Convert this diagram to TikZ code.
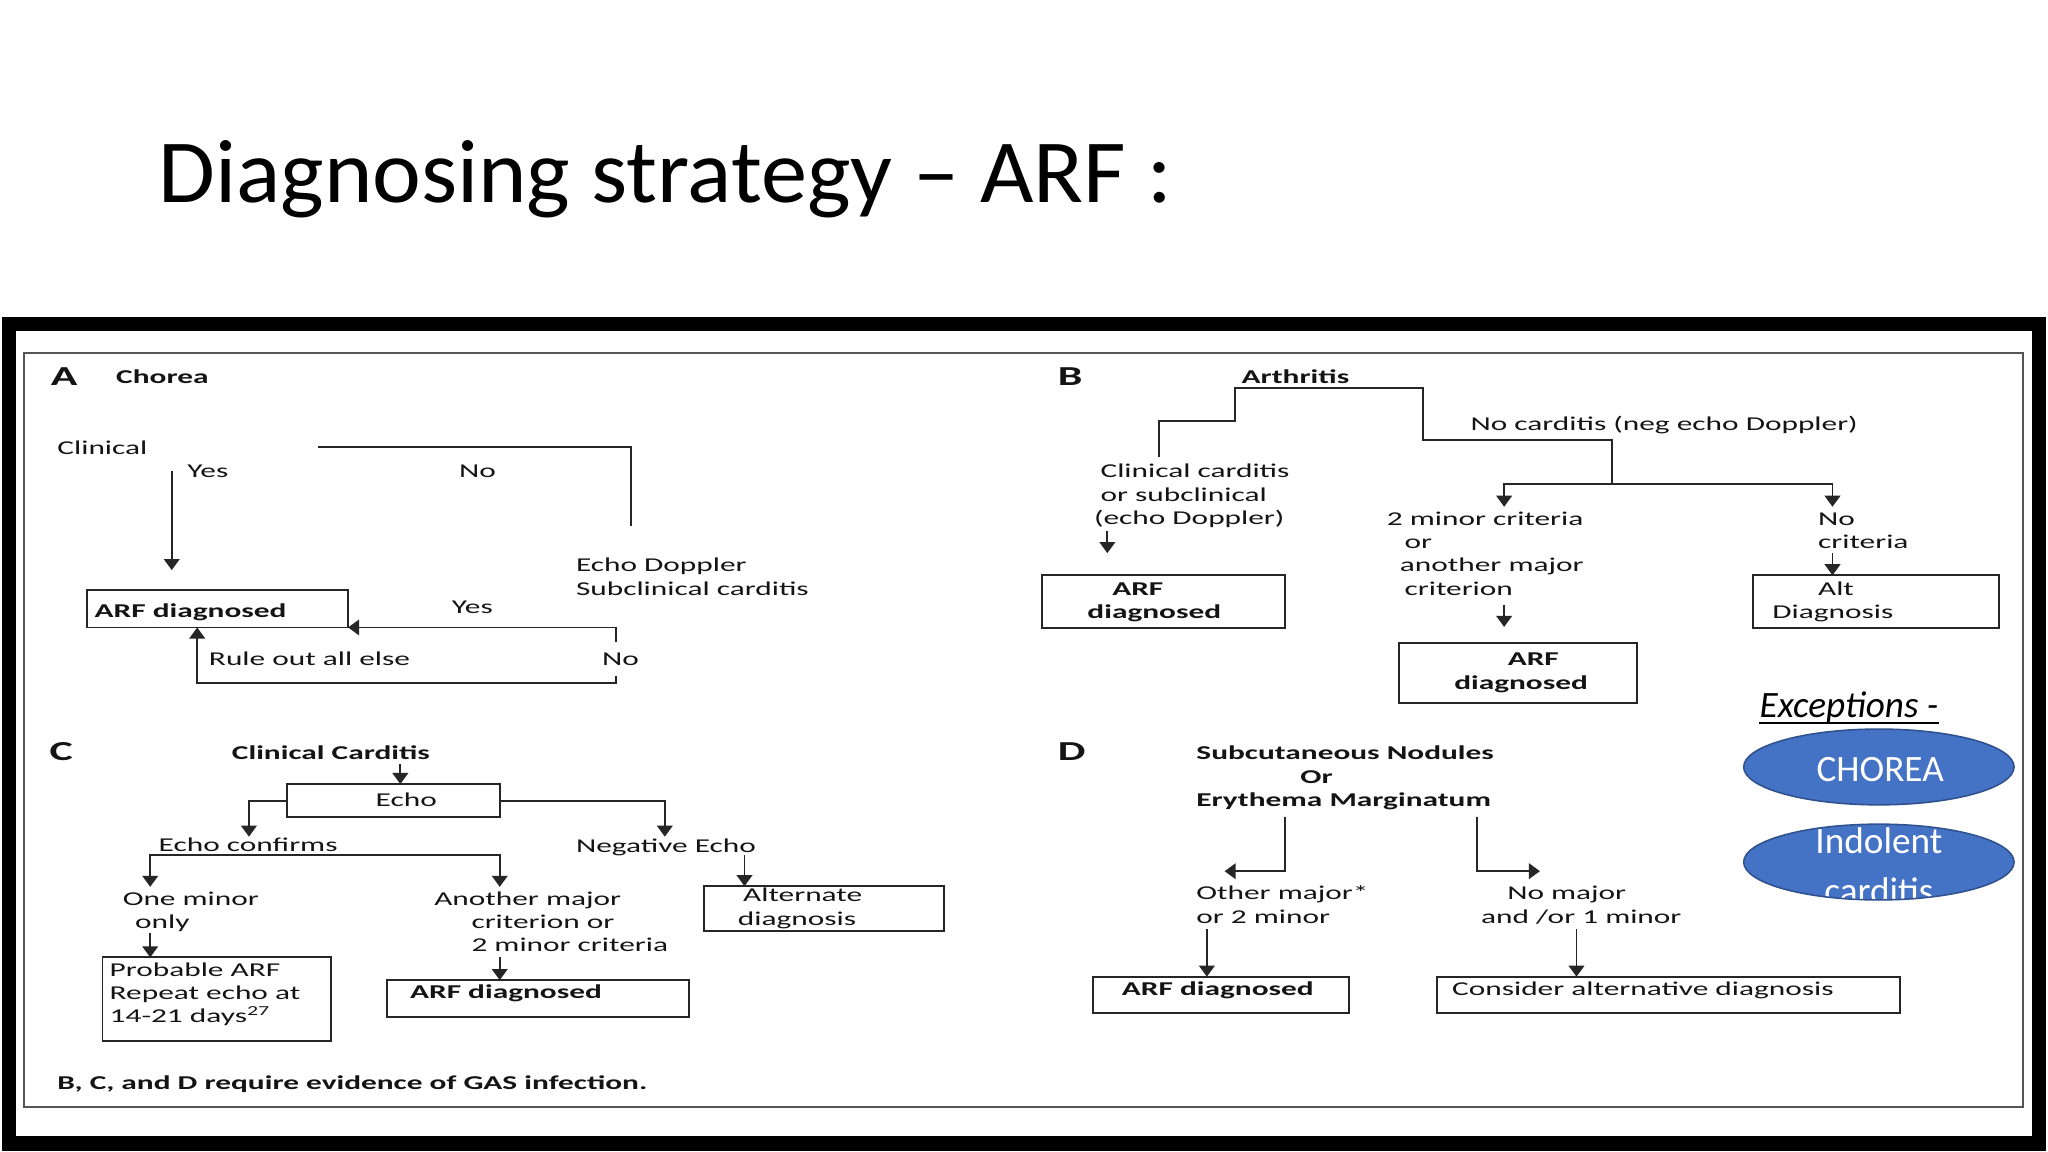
\documentclass[tikz,border=0pt]{standalone}
\usepackage{fontspec}
\setmainfont{Carlito}
\newfontfamily\figfont[FakeStretch=1.6]{Carlito}
\newfontfamily\titlefont[FakeStretch=1.025]{Carlito}
\usetikzlibrary{arrows.meta}
\definecolor{ink}{HTML}{141414}
\definecolor{lin}{HTML}{262626}
\definecolor{frm}{HTML}{555555}
\definecolor{ellfill}{HTML}{4472C4}
\definecolor{elldraw}{HTML}{2F528F}
\begin{document}
\begin{tikzpicture}[x=1pt,y=-1pt,
  txt/.style={anchor=base west, inner sep=0pt, outer sep=0pt, text=ink, font=\figfont\fontsize{15}{18}\selectfont},
  btxt/.style={txt, font=\figfont\bfseries\fontsize{15}{18}\selectfont},
  plabel/.style={txt, font=\figfont\bfseries\fontsize{21}{24}\selectfont},
  box/.style={draw=lin, line width=1.4pt, anchor=north west, inner sep=0pt, outer sep=0pt},
  conn/.style={draw=lin, line width=1.4pt},
  arr/.style={conn, -{Triangle[length=8.5pt,width=12pt]}},
  eltxt/.style={anchor=base, inner sep=0pt, text=white, font=\fontsize{28.5}{34}\selectfont}
]
\fill[white] (0,0) rectangle (1568,882);
\useasboundingbox (0,0) rectangle (1568,882);

% title
\node[anchor=base west, inner sep=0pt, font=\titlefont\fontsize{69}{80}\selectfont] (title) at (121,155) {Diagnosing strategy – ARF :};

% frames
\draw[line width=11pt, black] (6.8,248.3) rectangle (1561.3,875.5);
\draw[frm, line width=1.6pt] (18.4,270.5) rectangle (1549,847.4);

% ---------------- Panel A
\node[plabel] (aLab) at (39,294.8) {A};
\node[btxt] (aChorea) at (89,294) {Chorea};
\node[txt] (aClin) at (44,347.6) {Clinical};
\node[txt] (aYes1) at (143.5,365.7) {Yes};
\node[txt] (aNo1) at (351.6,365.7) {No};
\node[txt] (aEcho1) at (441,437.7) {Echo Doppler};
\node[txt] (aEcho2) at (441,455.6) {Subclinical carditis};
\node[box, minimum width=200pt, minimum height=28.6pt] (aArf) at (66.5,451.8) {};
\node[btxt] (aArfT) at (72.5,472.7) {ARF diagnosed};
\node[txt] (aYes2) at (346,469.6) {Yes};
\node[txt] (aRule) at (160,509.7) {Rule out all else};
\node[txt] (aNo2) at (461,509.7) {No};

\coordinate (aNoStart) at (243.6,342);
\coordinate (aNoEnd) at (483,403);
\draw[conn] (aNoStart) -| (aNoEnd);
\coordinate (aYesTop) at (131.5,360.4);
\coordinate (aYesTip) at (131.5,436.5);
\draw[arr] (aYesTop) -- (aYesTip);
\coordinate (aEchoYes) at (471.6,491.7);
\draw[arr] (aEchoYes) |- (aArf.south east);
\coordinate (aEchoNo) at (471.6,517.3);
\coordinate (aLoop) at (471.6,523.2);
\coordinate (aRuleIn) at (151,480.4);
\draw[arr] (aEchoNo) -- (aLoop) -| (aRuleIn);

% ---------------- Panel B
\node[plabel] (bLab) at (810,294.8) {B};
\node[btxt] (bArth) at (950.7,293.5) {Arthritis};
\node[txt] (bNoCard) at (1125.9,329.8) {No carditis (neg echo Doppler)};
\node[txt] (bCl1) at (842.6,365.7) {Clinical carditis};
\node[txt] (bCl2) at (842.6,383.6) {or subclinical};
\node[txt] (bCl3) at (837.6,401.5) {(echo Doppler)};
\node[txt] (bMi1) at (1061.8,402) {2 minor criteria};
\node[txt] (bMi2) at (1075.4,419.8) {or};
\node[txt] (bMi3) at (1071.8,437.7) {another major};
\node[txt] (bMi4) at (1075.4,455.6) {criterion};
\node[txt] (bNo1) at (1392,402) {No};
\node[txt] (bNo2) at (1392,419.8) {criteria};

\node[box, minimum width=186pt, minimum height=40.5pt] (bArf1) at (798,440.5) {};
\node[btxt] (bArf1a) at (851.6,455.6) {ARF};
\node[btxt] (bArf1b) at (832.6,473.5) {diagnosed};
\node[box, minimum width=182pt, minimum height=46pt] (bArf2) at (1071,492) {};
\node[btxt] (bArf2a) at (1154.4,509.7) {ARF};
\node[btxt] (bArf2b) at (1113.4,527.6) {diagnosed};
\node[box, minimum width=188.5pt, minimum height=40.5pt] (bAlt) at (1342,440.5) {};
\node[txt] (bAlta) at (1392,455.6) {Alt};
\node[txt] (bAltb) at (1357,473.5) {Diagnosis};

\coordinate (bStart) at (887.5,350);
\coordinate (bS1) at (945.7,322.4);
\coordinate (bS2) at (1089.6,296.8);
\coordinate (bS3) at (1234.3,336.9);
\coordinate (bSplit) at (1234.3,370.5);
\draw[conn] (bStart) |- (bS1) |- (bS2) |- (bS3) -- (bSplit);
\coordinate (bMinTip) at (1151.6,388);
\coordinate (bNoTip) at (1403,388);
\draw[arr] (bSplit) -| (bMinTip);
\draw[arr] (bSplit) -| (bNoTip);
\coordinate (bClTop) at (847.8,406.5);
\coordinate (bClTip) at (847.8,423.5);
\draw[arr] (bClTop) -- (bClTip);
\coordinate (bMiTop) at (1151.6,463);
\coordinate (bMiTip) at (1151.6,480);
\draw[arr] (bMiTop) -- (bMiTip);
\coordinate (bNoTop) at (1403,423.5);
\draw[arr] (bNoTop) -- (bNoTop |- bAlt.north);

% ---------------- Exceptions
\node[anchor=base west, inner sep=0pt, font=\fontsize{28.5}{34}\selectfont\itshape] (exc) at (1347,549) {Exceptions -};
\draw[line width=1.5pt] ([yshift=-4.5pt]exc.base west) -- ([yshift=-4.5pt]exc.base east);
\coordinate (choC) at (1438.5,587.2);
\coordinate (indC) at (1438.5,660);
\fill[ellfill] (choC) ellipse [x radius=103.5pt, y radius=29pt];
\fill[ellfill] (indC) ellipse [x radius=103.5pt, y radius=29pt];
\node[eltxt] (choT) at (1439.5,598.5) {CHOREA};
\node[eltxt] (indT1) at (1438.5,653.4) {Indolent};
\node[eltxt] (indT2) at (1438.5,692) {carditis};
\draw[elldraw, line width=1.2pt] (choC) ellipse [x radius=103.5pt, y radius=29pt];
\draw[elldraw, line width=1.2pt] (indC) ellipse [x radius=103.5pt, y radius=29pt];

% ---------------- Panel C
\node[plabel] (cLab) at (38,582) {C};
\node[btxt] (cClin) at (177.6,581.4) {Clinical Carditis};
\node[box, minimum width=162.5pt, minimum height=25.5pt] (cEcho) at (220,600.3) {};
\node[txt] (cEchoT) at (287.6,617.7) {Echo};
\node[txt] (cConf) at (121.5,652) {Echo confirms};
\node[txt] (cNeg) at (441,653) {Negative Echo};
\node[txt] (cOne1) at (94,693) {One minor};
\node[txt] (cOne2) at (103.5,710.8) {only};
\node[txt] (cAn1) at (332.5,693) {Another major};
\node[txt] (cAn2) at (361,710.8) {criterion or};
\node[txt] (cAn3) at (361,728.7) {2 minor criteria};
\node[box, minimum width=175pt, minimum height=63.8pt] (cProb) at (78.5,733) {};
\node[txt] (cProb1) at (84,747.3) {Probable ARF};
\node[txt] (cProb2) at (84,765) {Repeat echo at};
\node[txt] (cProb3) at (84,783) {14-21 days\textsuperscript{27}};
\node[box, minimum width=231pt, minimum height=28.5pt] (cArf) at (296.6,750.4) {};
\node[btxt] (cArfT) at (314,764.7) {ARF diagnosed};
\node[box, minimum width=183.7pt, minimum height=34pt] (cAlt) at (539,678.5) {};
\node[txt] (cAlt1) at (569,690.4) {Alternate};
\node[txt] (cAlt2) at (565,708.3) {diagnosis};
\node[btxt] (cGas) at (44,834) {B, C, and D require evidence of GAS infection.};

\coordinate (cClTop) at (306.5,585);
\draw[arr] (cClTop) -- (cClTop |- cEcho.north);
\coordinate (cLTip) at (190.6,640.6);
\coordinate (cRTip) at (509,640.6);
\draw[arr] (cEcho.west) -| (cLTip);
\draw[arr] (cEcho.east) -| (cRTip);
\coordinate (cBar) at (250,654.3);
\coordinate (cOneTip) at (115,679);
\coordinate (cAnTip) at (382.6,679);
\draw[arr] (cBar) -| (cOneTip);
\draw[arr] (cBar) -| (cAnTip);
\coordinate (cOneTop) at (115,714.6);
\draw[arr] (cOneTop) -- (cOneTop |- cProb.north);
\coordinate (cAnTop) at (382.6,733);
\draw[arr] (cAnTop) -- (cAnTop |- cArf.north);
\coordinate (cNegTop) at (570,654.7);
\draw[arr] (cNegTop) -- (cNegTop |- cAlt.north);

% ---------------- Panel D
\node[plabel] (dLab) at (810,582) {D};
\node[btxt] (dSub1) at (916,581.4) {Subcutaneous Nodules};
\node[btxt] (dSub2) at (995.6,599.8) {Or};
\node[btxt] (dSub3) at (916,617.2) {Erythema Marginatum};
\node[txt] (dOt1) at (916,689) {Other major*};
\node[txt] (dOt2) at (916,707) {or 2 minor};
\node[txt] (dNm1) at (1154,689) {No major};
\node[txt] (dNm2) at (1134,707) {and /or 1 minor};
\node[box, minimum width=196.4pt, minimum height=28pt] (dArf) at (836.6,747.8) {};
\node[btxt] (dArfT) at (859,761.9) {ARF diagnosed};
\node[box, minimum width=354.2pt, minimum height=28pt] (dCons) at (1100.3,747.8) {};
\node[txt] (dConsT) at (1111.8,762) {Consider alternative diagnosis};

\coordinate (dLTop) at (984,625.3);
\coordinate (dLTip) at (937.6,667);
\coordinate (dRTop) at (1131,625.3);
\coordinate (dRTip) at (1179,667);
\draw[arr] (dLTop) |- (dLTip);
\draw[arr] (dRTop) |- (dRTip);
\coordinate (dOtTop) at (924,711.6);
\draw[arr] (dOtTop) -- (dOtTop |- dArf.north);
\coordinate (dNmTop) at (1207,711.6);
\draw[arr] (dNmTop) -- (dNmTop |- dCons.north);
\end{tikzpicture}
\end{document}
